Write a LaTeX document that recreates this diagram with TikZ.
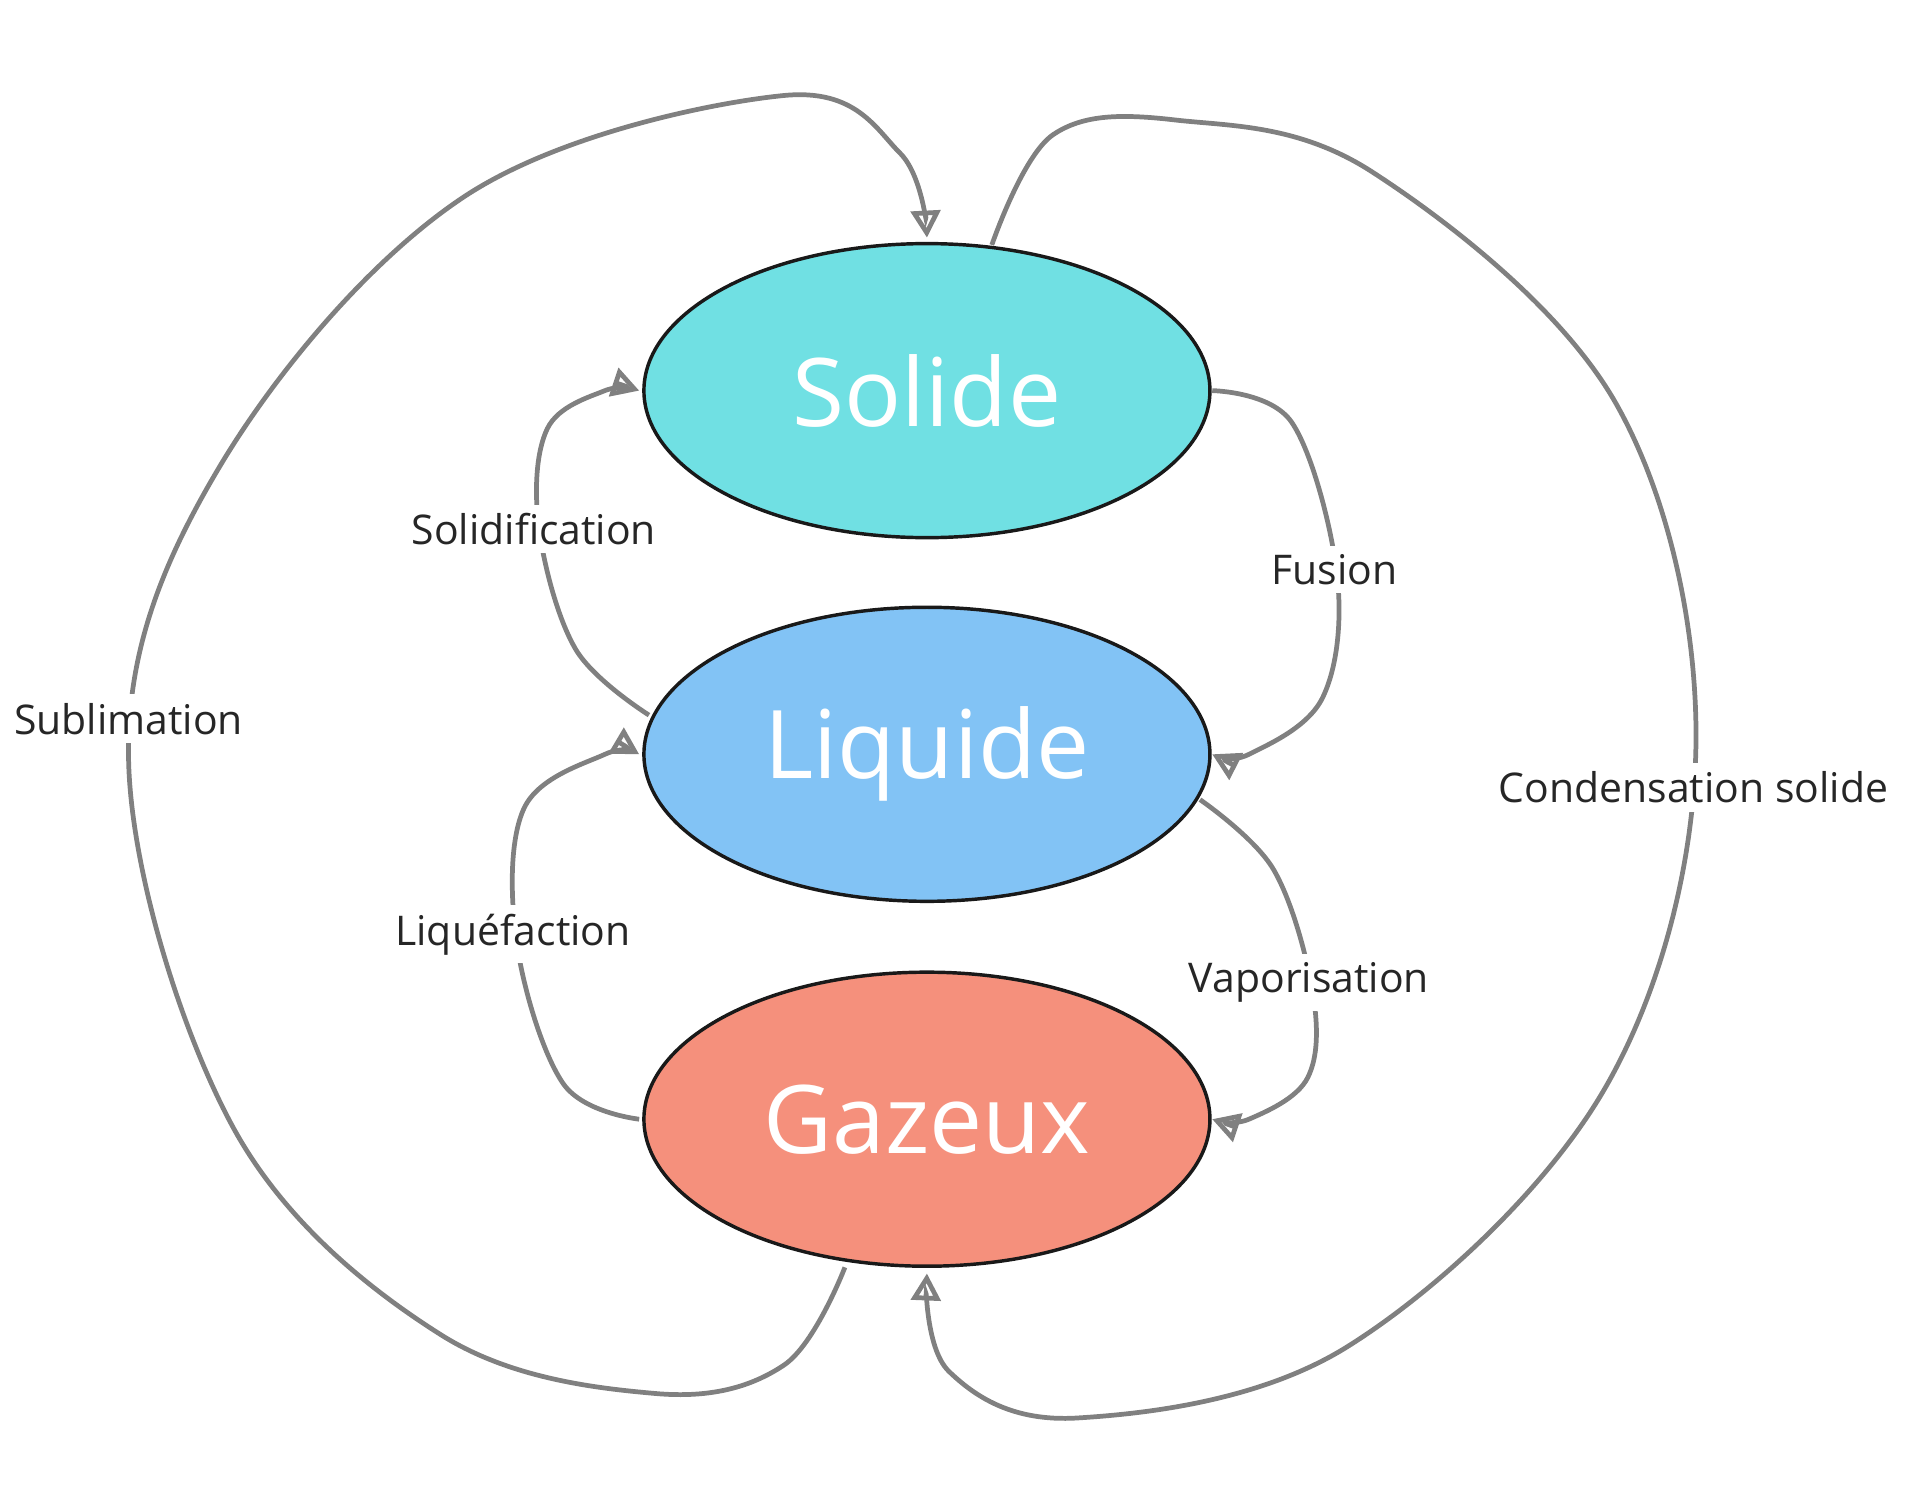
\documentclass[tikz,border=0pt]{standalone}
\usepackage{fontspec}
\setmainfont{Open Sans}
\usetikzlibrary{arrows.meta}
\definecolor{csol}{HTML}{70E0E3}
\definecolor{cliq}{HTML}{82C3F5}
\definecolor{cgaz}{HTML}{F5907C}
\definecolor{edge}{HTML}{808080}
\begin{document}
\begin{tikzpicture}[x=0.01cm,y=-0.01cm,
  st/.style={ellipse,draw=black!90,line width=0.8pt,minimum width=462\pgflinewidth*0+4.62cm,minimum height=2.4cm,text=white,font=\fontsize{22}{26}\selectfont},
  conn/.style={draw=edge,line width=1.1pt,-{Triangle[open,length=0.22cm,width=0.24cm,line width=1.1pt]}},
  lab/.style={fill=white,inner sep=2pt,font=\fontsize{9.5}{11}\selectfont,text=black!85}]
\usetikzlibrary{shapes.geometric}
\useasboundingbox (0,0) rectangle (1568,1214);
\node[st,fill=csol] (sol) at (757,319) {Solide};
\node[st,fill=cliq] (liq) at (757,616) {Liquide};
\node[st,fill=cgaz] (gaz) at (757,914) {Gazeux};
% Sublimation
\coordinate (s1) at (690,1035);
\coordinate (s2) at (757,194);
\draw[conn] plot[smooth,tension=0.6] coordinates {(s1) (640,1115) (535,1138) (360,1090) (190,920) (105,620) (180,380) (380,160) (640,78) (735,125) (s2)};
% Condensation solide
\coordinate (c1) at (810,200);
\coordinate (c2) at (757,1040);
\draw[conn] plot[smooth,tension=0.6] coordinates {(c1) (860,110) (960,98) (1120,140) (1320,330) (1385,610) (1310,890) (1100,1100) (880,1158) (775,1120) (c2)};
% Solidification
\coordinate (a1) at (530,584);
\coordinate (a2) at (522,319);
\draw[conn] plot[smooth,tension=0.6] coordinates {(a1) (470,530) (440,430) (447,350) (494,319) (a2)};
% Fusion
\coordinate (f1) at (990,319);
\coordinate (f2) at (990,616);
\draw[conn] plot[smooth,tension=0.6] coordinates {(f1) (1055,345) (1092,470) (1080,570) (1020,616) (f2)};
% Liquefaction
\coordinate (l1) at (522,914);
\coordinate (l2) at (522,616);
\draw[conn] plot[smooth,tension=0.6] coordinates {(l1) (460,885) (422,770) (428,660) (494,616) (l2)};
% Vaporisation
\coordinate (v1) at (980,653);
\coordinate (v2) at (990,914);
\draw[conn] plot[smooth,tension=0.6] coordinates {(v1) (1040,710) (1072,810) (1068,880) (1020,914) (v2)};
\node[lab] (lsub) at (105,587) {Sublimation};
\node[lab] (lcon) at (1383,643) {Condensation solide};
\node[lab] (lsol) at (436,432) {Solidification};
\node[lab] (lfus) at (1090,465) {Fusion};
\node[lab] (lliq) at (419,763) {Liquéfaction};
\node[lab] (lvap) at (1069,802) {Vaporisation};
\end{tikzpicture}
\end{document}
